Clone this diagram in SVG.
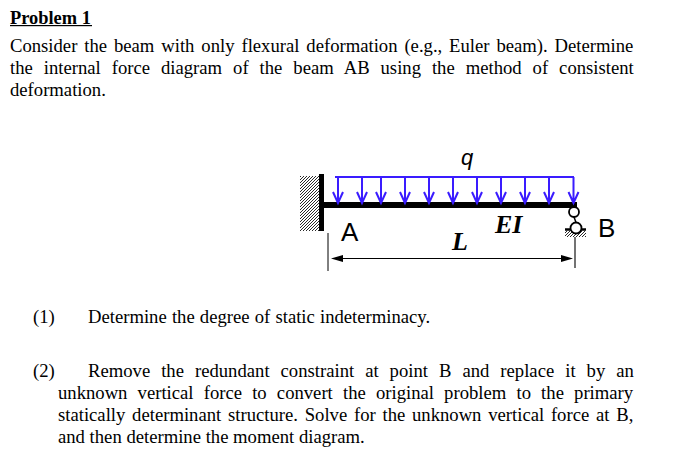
<svg xmlns="http://www.w3.org/2000/svg" width="676" height="468" viewBox="0 0 676 468">
<style>
text{font-family:"Liberation Serif","Times New Roman",serif;font-size:18.67px;fill:#000}
.s{font-family:"Liberation Sans",Arial,sans-serif;font-size:26px}
.bi{font-weight:bold;font-style:italic;font-size:26px}
.q{stroke:#3a1cff;stroke-width:2;fill:none}
.k{stroke:#000;fill:none}
</style>
<defs>
<pattern id="h" width="3" height="3" patternUnits="userSpaceOnUse"><rect width="3" height="3" fill="#fff"/><path d="M-1 1L1 -1M0 3L3 0M2 4L4 2" stroke="#111" stroke-width="0.9"/></pattern>
<g id="a"><path class="q" d="M0 0V25M-5 15L0 26L5 15"/></g>
</defs>
<rect width="676" height="468" fill="#fff"/>
<text x="10" y="24" font-weight="bold" style="font-size:18.4px">Problem 1</text>
<rect x="10" y="25" width="82" height="1.2" fill="#000"/>
<text x="10" y="52" word-spacing="2.24">Consider the beam with only flexural deformation (e.g., Euler beam). Determine</text>
<text x="10" y="74" word-spacing="6.3">the internal force diagram of the beam AB using the method of consistent</text>
<text x="10" y="96">deformation.</text>
<g id="wall"><rect x="300" y="176" width="19" height="55" fill="url(#h)"/><rect x="319" y="174" width="5" height="57" fill="#000"/></g>
<g id="beam"><rect x="323" y="202" width="254" height="6" fill="#000"/></g>
<g id="load"><path class="q" d="M335 177H574"/>
<use href="#a" x="338" y="177"/><use href="#a" x="362" y="177"/><use href="#a" x="381" y="177"/><use href="#a" x="405" y="177"/><use href="#a" x="429" y="177"/><use href="#a" x="453" y="177"/><use href="#a" x="477" y="177"/><use href="#a" x="501" y="177"/><use href="#a" x="525" y="177"/><use href="#a" x="549" y="177"/><use href="#a" x="573.5" y="177"/>
<text x="461" y="165" style="font-family:'Liberation Sans',sans-serif;font-style:italic;font-size:22px">q</text></g>
<g id="support"><rect x="565" y="231" width="21" height="6" fill="url(#h)"/><path d="M565 229.500H586" stroke="#000" stroke-width="2.500"/><circle cx="574" cy="212" r="5" fill="#fff" stroke="#000" stroke-width="1.8"/><circle cx="576" cy="228" r="5.500" fill="#fff" stroke="#000" stroke-width="1.8"/><path class="k" d="M574 217L576 222.500" stroke-width="1.500"/></g>
<g id="labels"><text class="s" x="341" y="241">A</text><text class="s" x="598" y="237">B</text><text class="bi" x="495" y="233">EI</text><text class="bi" x="452" y="250">L</text></g>
<g id="dimension"><path class="k" d="M328 233V271M335 258.500H570"/><path d="M575 237V268" stroke="#444" stroke-width="1.500"/><path d="M331 258.500L343 255V262Z"/><path d="M573 258.500L561 255V262Z"/></g>
<text x="33" y="323">(1)</text>
<text x="88" y="323" word-spacing="0.5">Determine the degree of static indeterminacy.</text>
<text x="33" y="377">(2)</text>
<text x="88" y="377" word-spacing="6.34">Remove the redundant constraint at point B and replace it by an</text>
<text x="58" y="399" word-spacing="5.5">unknown vertical force to convert the original problem to the primary</text>
<text x="58" y="421" word-spacing="2.1">statically determinant structure. Solve for the unknown vertical force at B,</text>
<text x="58" y="443">and then determine the moment diagram.</text>
</svg>
